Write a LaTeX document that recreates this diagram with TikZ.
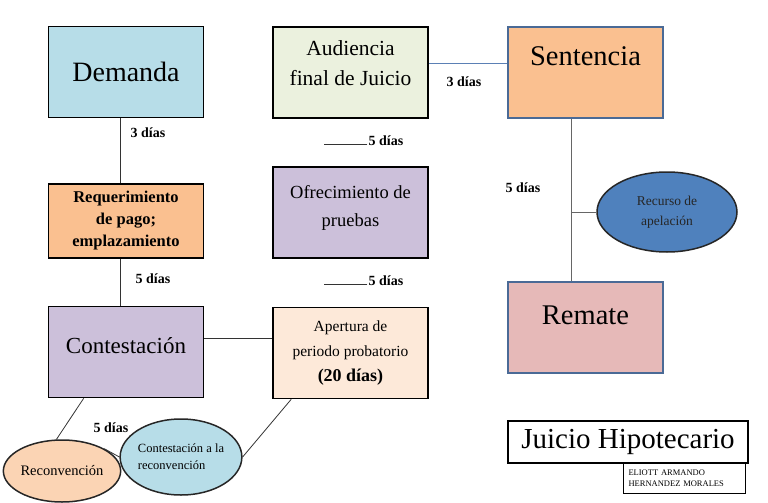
\documentclass[tikz,border=0pt]{standalone}
\usepackage{fontspec}
\setmainfont{Liberation Serif}
\usepackage{tikz}
\usetikzlibrary{shapes.geometric, positioning, calc}
\definecolor{demBlue}{HTML}{B7DDE8}
\definecolor{reqOrange}{HTML}{FAC090}
\definecolor{lavender}{HTML}{CCC0DA}
\definecolor{audGreen}{HTML}{EBF1DE}
\definecolor{apePeach}{HTML}{FDE9D9}
\definecolor{remPink}{HTML}{E6B9B8}
\definecolor{recBlue}{HTML}{4F81BD}
\definecolor{recoPeach}{HTML}{FBD4B4}
\definecolor{frameBlue}{HTML}{4A6A96}
\definecolor{linkBlue}{HTML}{5B80B5}
\newcommand{\fs}[1]{\fontsize{#1}{#1}\selectfont}
\tikzset{
  stage/.style  = {rectangle, draw=black, line width=1.6pt, minimum width=155pt,
                   minimum height=91pt, align=center, inner sep=2pt},
  stageB/.style = {rectangle, draw=frameBlue, line width=1.1pt, minimum width=155pt,
                   minimum height=91pt, inner sep=0pt},
  oval/.style   = {ellipse, draw=black!85, line width=1.5pt, inner sep=0pt, align=center},
  link/.style   = {draw=black!80, line width=0.8pt},
  days/.style   = {font=\fs{14}\bfseries, inner sep=1pt},
}

\begin{document}
\begin{tikzpicture}[x=1pt, y=-1pt]
    \useasboundingbox (0,0) rectangle (768,503);

    %% Left column
    \node[stage, fill=demBlue] (dem) at (126,72) {\fs{28}Demanda};
    \node[stage, fill=reqOrange, minimum height=74pt, font=\fontsize{16.5}{22}\selectfont\bfseries]
        (req) at (126,221) {Requerimiento\\de pago;\\emplazamiento};
    \node[stage, fill=lavender, font=\fs{23}] (cont) at (126,352) {Contestación\\[-9pt]};

    %% Middle column
    \node[stage, fill=audGreen, font=\fontsize{21.5}{30}\selectfont] (aud) at (350.5,72.5)
        {Audiencia\\final de Juicio\\[-12pt]};
    \node[stage, fill=lavender, font=\fontsize{18.5}{28}\selectfont] (ofr) at (350.5,212.5)
        {Ofrecimiento de\\pruebas\\[-14pt]};
    \node[stage, fill=apePeach, font=\fontsize{15.5}{25}\selectfont] (ape) at (350.5,353)
        {Apertura de\\periodo probatorio\\{\fs{18}\bfseries (20 días)}};

    %% Right column
    \node[stageB, fill=reqOrange,
          label={[anchor=north, yshift=-17pt, font=\fs{28.5}]north:Sentencia}] (sent) at (585.5,72.5) {};
    \node[stageB, fill=remPink,
          label={[anchor=north, yshift=-21pt, font=\fs{28.5}]north:Remate}] (rem) at (585.5,327.5) {};
    \node[oval, fill=recBlue, minimum width=140pt, minimum height=80pt,
          font=\fontsize{13.5}{20}\selectfont, text=black!85] (rec) at (667,212) {Recurso de\\apelación};

    %% Ellipses bottom left
    \node[oval, fill=recoPeach, minimum width=110pt, minimum height=62pt, font=\fs{14.5}] (reco) at (62,471)
        {Reconvención};
    \node[oval, fill=demBlue, minimum width=106pt, minimum height=76pt, align=left,
          font=\fontsize{12.5}{17}\selectfont] (crec) at (181,457) {Contestación a la\\reconvención};

    %% Title
    \node[rectangle, draw=black, line width=1.1pt, minimum width=240pt, minimum height=42pt,
          inner sep=0pt, font=\fs{29}] (title) at (628,442) {Juicio Hipotecario\hspace{6pt}};
    \node[rectangle, draw=black, fill=white, line width=1pt, minimum width=122pt, minimum height=30pt,
          align=left, font=\fontsize{8.5}{11}\selectfont, anchor=north west, inner sep=4pt,
          text width=112pt] (auth) at (623,463) {ELIOTT ARMANDO\\HERNANDEZ MORALES};

    %% Connectors
    \draw[link] ([xshift=-6pt]dem.south) -- ([xshift=-6pt]req.north);
    \draw[link] ([xshift=-6pt]req.south) -- ([xshift=-6pt]cont.north);
    \draw[link] ([yshift=14pt]cont.east) -- ([yshift=14pt]cont.east -| ape.west);
    \draw[link] ([xshift=36pt]cont.south west) -- (reco.100);
    \draw[link] (reco.28) -- (crec.west);
    \draw[link] (crec.east) -- ([xshift=19pt]ape.south west);
    \draw[draw=linkBlue, line width=0.8pt] ([yshift=9pt]aud.east) -- ([yshift=9pt]aud.east -| sent.west);
    \coordinate (trunk) at ([xshift=-14pt]sent.south);
    \draw[draw=black!60, line width=0.8pt] (trunk) -- (trunk |- rem.north);
    \draw[draw=black!60, line width=0.8pt] (rec.west) -- (rec.west -| trunk);

    %% Labels
    \node[days] (d3a) at (148,133) {3 días};
    \node[days] (d5a) at (153,279) {5 días};
    \node[days] (d3b) at (464,82)  {3 días};
    \node[days] (d5b) at (523,188) {5 días};
    \node[days] (d5c) at (111,428) {5 días};
    \node[days] (d5d) at (386,141) {5 días};
    \node[days] (d5e) at (386,281) {5 días};
    \draw[link] ([yshift=1pt]d5d.base west) -- ++(-43,0);
    \draw[link] ([yshift=1pt]d5e.base west) -- ++(-43,0);

\end{tikzpicture}
\end{document}
